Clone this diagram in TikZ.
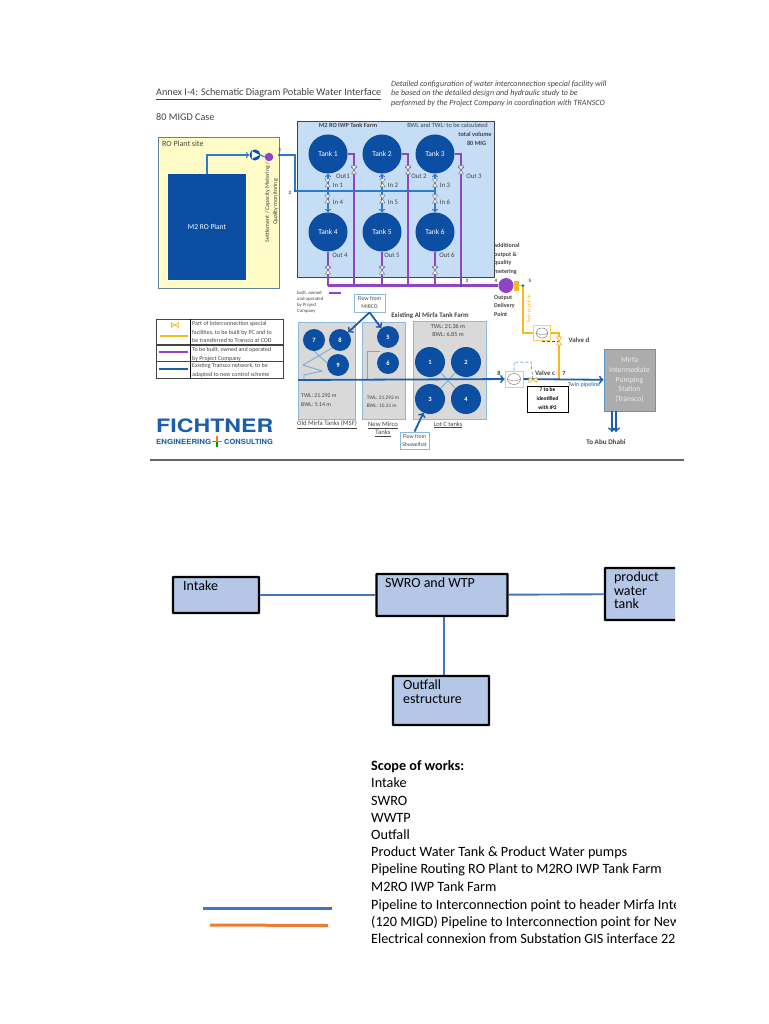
\documentclass[tikz,border=0pt]{standalone}
\usepackage{fontspec}
\setmainfont{Carlito}
\newfontfamily\logofont{TeX Gyre Heros}
\definecolor{azulT}{HTML}{0B4EA2}
\definecolor{azulP}{HTML}{1B5FAA}
\definecolor{azulC}{HTML}{2A7CD0}
\definecolor{morado}{HTML}{8E44C4}
\definecolor{amarillo}{HTML}{F5B81F}
\definecolor{cielo}{HTML}{C5DDF5}
\definecolor{marco}{HTML}{8DB9DC}
\definecolor{gris}{HTML}{D9D9D9}
\definecolor{cajaF}{HTML}{B4C7E7}
\definecolor{lineaB}{HTML}{4472C4}
\definecolor{lineaN}{HTML}{ED7D31}
\definecolor{tinta}{HTML}{444444}
\tikzset{
  chico/.style={font=\fontsize{6.8}{8}\selectfont, text=tinta, inner sep=0pt, align=center},
  mini/.style={font=\fontsize{6.3}{7}\selectfont\bfseries, text=tinta, inner sep=0pt, align=left},
  num/.style={font=\fontsize{5}{6}\selectfont\bfseries, text=tinta, inner sep=0pt},
  leyenda/.style={font=\fontsize{6}{8.4}\selectfont, text=tinta, inner sep=0pt, align=left, anchor=north west},
  tanque/.style={circle, fill=azulT, text=white, inner sep=0pt, minimum size=39pt, font=\fontsize{7.5}{9}\selectfont},
  tanqueC/.style={circle, fill=azulT, text=white, inner sep=0pt, font=\fontsize{6.5}{8}\selectfont\bfseries},
  grupo/.style={draw=marco, fill=gris, line width=1pt},
  tubB/.style={color=azulC, line width=1.2pt},
  tubM/.style={color=morado, line width=1.3pt},
  tubMg/.style={color=morado, line width=2.2pt},
  tubA/.style={color=amarillo, line width=1.5pt},
  tubG/.style={color=azulP, line width=1.8pt},
  fino/.style={color=marco!80!azulP, line width=0.8pt},
  medidor/.style={draw=amarillo!70, fill=white, line width=0.7pt, minimum width=17pt, minimum height=15pt, inner sep=0pt},
  caja/.style={draw=black, fill=cajaF, line width=2.2pt, rounded corners=0.5pt, inner sep=0pt},
  textoCaja/.style={font=\fontsize{14}{13.5}\selectfont, text=black, inner sep=0pt, align=left, anchor=north west},
  alcance/.style={font=\fontsize{14.2}{15}\selectfont, text=black, inner sep=0pt, anchor=base west},
  valvula/.pic={\draw[draw=tinta!70, fill=white, line width=0.5pt] (-2.5,-4) -- (2.5,-4) -- (-2.5,4) -- (2.5,4) -- cycle;},
  valvulaA/.pic={\draw[draw=amarillo, fill=white, line width=0.7pt] (-2.5,-4) -- (2.5,-4) -- (-2.5,4) -- (2.5,4) -- cycle;}
}
\begin{document}
\begin{tikzpicture}[x=1pt, y=-1pt]
  \useasboundingbox (0,0) rectangle (768,1024);

  % Titulos
  \node[font=\fontsize{10.2}{11}\selectfont, text=tinta, inner sep=0pt, anchor=west] (titulo) at (156,94) {\underline{Annex I-4: Schematic Diagram Potable Water Interface}};
  \node[font=\fontsize{10.2}{11}\selectfont, text=tinta, inner sep=0pt, anchor=west] (caso) at (156,117) {80 MIGD Case};
  \node[font=\fontsize{8.05}{9.2}\selectfont\itshape, text=tinta, inner sep=0pt, anchor=north west, align=left] (nota) at (391,81) {Detailed configuration of water interconnection special facility will\\be based on the detailed design and hydraulic study to be\\performed by the Project Company in coordination with TRANSCO};

  % Sitio de la planta
  \draw[fill=yellow!22, draw=marco!70!black, line width=0.8pt] (158,137) rectangle (279,288);
  \node[chico, font=\fontsize{8}{9}\selectfont, anchor=west] (sitio) at (162,143.5) {RO Plant site};
  \node[fill=azulT, text=white, font=\fontsize{7.5}{9}\selectfont, minimum width=78pt, minimum height=106pt, inner sep=0pt] (planta) at (207,227) {M2 RO Plant};
  \node[circle, fill=azulT, minimum size=11pt, inner sep=0pt] (bomba) at (255,155) {};
  \draw[fill=white, draw=white] (252,151.5) -- (259,155) -- (252,158.5) -- cycle;
  \node[circle, fill=morado, minimum size=8.5pt, inner sep=0pt] (calidad) at (269,157) {};
  \node[chico, font=\fontsize{6}{8}\selectfont, rotate=90] (settle) at (271.5,202) {Settlement / Capacity Metering /\\Quality monitoring};
  \node[num] (n1) at (280,150) {1};
  \node[num] (n2) at (290,193) {2};

  % Patio de tanques
  \draw[fill=cielo, draw=tinta, line width=0.8pt] (297,121) rectangle (494,277);
  \node[mini] (patio) at (348,125) {M2 RO IWP Tank Farm};
  \node[chico, font=\fontsize{6.4}{7}\selectfont] (calc) at (447.5,125) {BWL and TWL: to be calculated};
  \node[mini] (volumen) at (475,134) {total volume};
  \node[mini] (migd) at (476.5,143) {80 MIG};

  \node[tanque] (tank1) at (328,154) {Tank 1};
  \node[tanque] (tank2) at (382,154) {Tank 2};
  \node[tanque] (tank3) at (435,154) {Tank 3};
  \node[tanque] (tank4) at (328,232) {Tank 4};
  \node[tanque] (tank5) at (382,232) {Tank 5};
  \node[tanque] (tank6) at (435,232) {Tank 6};

  % Puntos de la red
  \coordinate (p1) at (279,155);
  \coordinate (p1b) at (295,155);
  \coordinate (p2) at (295,191);
  \coordinate (c3) at (435,191);
  \coordinate (v1) at (354,170);
  \coordinate (v2) at (408,170);
  \coordinate (v3) at (461,170);
  \coordinate (j1) at (354,285.5);
  \coordinate (j2) at (408,285.5);
  \coordinate (j3) at (461,285.5);
  \coordinate (j4) at (328,285.5);
  \coordinate (j5) at (382,285.5);
  \coordinate (j6) at (435,285.5);
  \coordinate (in1) at (327.5,183);
  \coordinate (in4) at (327.5,199);
  \coordinate (in2) at (382.5,183);
  \coordinate (in5) at (382.5,199);
  \coordinate (in3) at (435,183);
  \coordinate (in6) at (435,199);
  \coordinate (o4) at (328,270);
  \coordinate (o5) at (382,270);
  \coordinate (o6) at (435,270);

  % Tuberias azules
  \draw[tubB, ->] (planta.north) |- (bomba.west);
  \draw[tubB] (bomba.east) -- (calidad.west);
  \draw[tubB] (p1) -- (p1b) -- (p2) -- (c3);
  \draw[tubB, <->] (tank1) -- (tank4);
  \draw[tubB, <->] (tank2) -- (tank5);
  \draw[tubB, <->] (tank3) -- (tank6);
  \fill[azulP] (p1) circle (1.2);
  \fill[azulP] (p2) circle (1.2);

  % Tuberias moradas
  \node[circle, fill=morado, minimum size=15pt, inner sep=0pt] (entrega) at (506,285.5) {};
  \draw[tubM, ->] (tank1.east) -| (v1);
  \draw[tubM, ->] (tank2.east) -| (v2);
  \draw[tubM, ->] (tank3.east) -| (v3);
  \draw[tubM] (v1) -- (j1);
  \draw[tubM] (v2) -- (j2);
  \draw[tubM] (v3) -- (j3);
  \draw[tubM, ->] (tank4) -- (o4);
  \draw[tubM, ->] (tank5) -- (o5);
  \draw[tubM, ->] (tank6) -- (o6);
  \draw[tubM] (o4) -- (j4);
  \draw[tubM] (o5) -- (j5);
  \draw[tubM] (o6) -- (j6);
  \draw[tubMg] (j4) -- (entrega);
  \fill[morado] (j1) circle (1.4);
  \fill[morado] (j2) circle (1.4);
  \fill[azulP] (j3) circle (1.4);

  % Valvulas
  \pic at (in1) {valvula};
  \pic at (in2) {valvula};
  \pic at (in3) {valvula};
  \pic at (in4) {valvula};
  \pic at (in5) {valvula};
  \pic at (in6) {valvula};
  \pic at (v1) {valvula};
  \pic at (v2) {valvula};
  \pic at (v3) {valvula};
  \pic at (o4) {valvula};
  \pic at (o5) {valvula};
  \pic at (o6) {valvula};

  \node[chico] (lo1) at (343,176) {Out1};
  \node[chico] (lo2) at (419,176) {Out 2};
  \node[chico] (lo3) at (474,176) {Out 3};
  \node[chico] (lo4) at (340,255) {Out 4};
  \node[chico] (lo5) at (392,255) {Out 5};
  \node[chico] (lo6) at (447,255) {Out 6};
  \node[chico] (li1) at (338,185) {In 1};
  \node[chico] (li2) at (393,185) {In 2};
  \node[chico] (li3) at (445,185) {In 3};
  \node[chico] (li4) at (338,202) {In 4};
  \node[chico] (li5) at (393,202) {In 5};
  \node[chico] (li6) at (445,202) {In 6};

  % Punto de entrega
  \node[num] (n3) at (467,281) {3};
  \node[num] (n4) at (496,281) {4};
  \node[num] (n5) at (530,281) {5};
  \node[mini, anchor=north west, font=\fontsize{6}{8.7}\selectfont\bfseries] (extra) at (494,243) {additional\\output \&\\quality\\metering};
  \node[mini, anchor=north west, font=\fontsize{6}{8.6}\selectfont\bfseries] (salida) at (494,295) {Output\\Delivery\\Point};
  \node[chico, anchor=north west, font=\fontsize{4.8}{6}\selectfont, align=left] (propio) at (297,291) {built, owned\\and operated\\by Project\\Company};
  \draw[tubM] (329,293) -- (341,293);

  % Ramal amarillo
  \coordinate (p5) at (523,285.5);
  \coordinate (p5b) at (523,333);
  \coordinate (p7d) at (559,333);
  \coordinate (p7) at (559,380);
  \coordinate (vd) at (559,341);
  \coordinate (vc) at (533,380);
  \node[medidor] (medD) at (542,333) {};
  \draw[tubA] (entrega) -- (p5) -- (p5b) -- (medD);
  \draw[tubA] (medD) -- (p7d) -- (p7);
  \draw[fill=amarillo, draw=none] (514,281) rectangle (519,291);
  \fill[azulP] (p5) circle (1.3);
  \draw[azulP, densely dashed, line width=0.5pt] (medD.south) |- (vd);
  \draw[gray, line width=0.5pt] (medD.center) ellipse (6 and 5);
  \draw[gray, line width=0.4pt] (536,333) to[bend right=30] (548,333);
  \pic at (vd) {valvulaA};
  \node[chico, text=amarillo, font=\fontsize{5.4}{6}\selectfont, rotate=90] (gemela) at (529,309) {Twin pipeline};
  \node[chico, font=\fontsize{6.9}{8}\selectfont\bfseries] (lvd) at (579,340) {Valve d};

  % Grupos de tanques existentes
  \draw[grupo] (298,322) rectangle (355,419);
  \draw[grupo] (362,322) rectangle (405,419);
  \draw[grupo] (413,321) rectangle (486,419);
  \node[mini, font=\fontsize{6.9}{8}\selectfont\bfseries] (existente) at (430,315.5) {Existing Al Mirfa Tank Farm};

  \draw[fino] (332,348) -- (303,365) -- (322,371) -- (304,375) -- (304,380);
  \draw[fino] (313,350) -- (327,363);
  \draw[fino] (367,380) -- (367,351) -- (380,351);
  \draw[fino] (441,373) -- (455,388);
  \draw[fino] (455,373) -- (441,388);

  \node[tanqueC, minimum size=22pt] (t7) at (314,340) {7};
  \node[tanqueC, minimum size=22pt] (t8) at (340,340) {8};
  \node[tanqueC, minimum size=22pt] (t9) at (338,365) {9};
  \node[tanqueC, minimum size=22pt] (t5) at (388,337) {5};
  \node[tanqueC, minimum size=22pt] (t6) at (388,363) {6};
  \node[tanqueC, minimum size=30pt] (t1) at (430,362) {1};
  \node[tanqueC, minimum size=30pt] (t2) at (466,362) {2};
  \node[tanqueC, minimum size=30pt] (t3) at (430,399) {3};
  \node[tanqueC, minimum size=30pt] (t4) at (466,399) {4};

  \node[chico, font=\fontsize{5.8}{8.3}\selectfont, align=left, anchor=west] (nivO) at (301,400) {TWL: 21.292 m\\BWL: 5.14 m};
  \node[chico, font=\fontsize{5.3}{8}\selectfont, align=left] (nivN) at (383,402) {TWL: 21.292 m\\BWL: 10.31 m};
  \node[chico, font=\fontsize{6.1}{8.7}\selectfont, align=center] (nivC) at (448,330.5) {TWL: 21.36 m\\BWL: 6.85 m};
  \node[chico, font=\fontsize{6.7}{8}\selectfont] (lOld) at (327,425) {\underline{Old Mirfa Tanks (MSF)}};
  \node[chico, font=\fontsize{6.7}{8}\selectfont] (lNew) at (383,429) {\underline{New Mirco}\\\underline{Tanks}};
  \node[chico, font=\fontsize{6.5}{8}\selectfont] (lLot) at (448,425) {\underline{Lot C tanks}};

  % Flujos de entrada
  \node[draw=marco, fill=white, line width=0.8pt, chico, font=\fontsize{5.7}{8}\selectfont, minimum width=31pt, minimum height=18pt] (mirco) at (369.5,303) {Flow from\\MIRCO};
  \node[draw=marco, fill=white, line width=0.8pt, chico, font=\fontsize{5.7}{8}\selectfont, minimum width=29pt, minimum height=17pt] (shuw) at (414.5,440.5) {Flow from\\Shuweihat};
  \draw[tubG, ->] (mirco.south) -- (t8);
  \draw[tubG, ->] (mirco.south) -- (t5);
  \draw[tubG, ->] (shuw.north) -- (t3);

  % Linea principal
  \coordinate (ini) at (298,380);
  \node[medidor, minimum width=18pt, minimum height=16pt] (medC) at (514,379) {};
  \node[fill=gray!65, draw=marco!60!azulP, line width=1pt, minimum width=51pt, minimum height=62pt, inner sep=0pt, align=center, text=white!92!black, font=\fontsize{7.7}{9.8}\selectfont] (estacion) at (629.5,380) {Mirfa\\Intermediate\\Pumping\\Station\\(Transco)};
  \draw[tubG, ->] (ini) -- (medC);
  \draw[tubG, ->] (medC) -- (estacion);
  \draw[gray, line width=0.5pt] (medC.center) ellipse (6.5 and 5.5);
  \draw[gray, line width=0.4pt] (507.5,379) to[bend right=30] (520.5,379);
  \draw[azulP, densely dashed, line width=0.5pt] (medC.north) -- (514,362) -- (531,362) -- (vc);
  \pic[rotate=90] at (vc) {valvulaA};
  \draw[fill=amarillo, draw=none] (559,375) circle (1.6);
  \node[mini] (n8) at (499,373) {8};
  \node[mini, font=\fontsize{6.9}{8}\selectfont\bfseries] (lvc) at (545,373) {Valve c};
  \node[mini] (n7) at (564,373) {7};
  \node[chico, text=azulP, font=\fontsize{6}{7}\selectfont] (gemelaB) at (584,385) {Twin pipeline};
  \node[draw=black, fill=white, line width=0.6pt, chico, text=black, font=\fontsize{5.4}{9}\selectfont\bfseries, minimum width=41pt, minimum height=26pt] (ip2) at (547.5,399) {7 to be\\identified\\with IP2};
  \coordinate (abu1) at (612,432);
  \coordinate (abu2) at (616,432);
  \draw[tubG, ->] (612,411) -- (abu1);
  \draw[tubG, ->] (616,411) -- (abu2);
  \node[chico, font=\fontsize{7.1}{8}\selectfont\bfseries] (abu) at (606,442) {To Abu Dhabi};

  % Tabla de leyenda
  \draw[tinta, line width=0.7pt] (156,319) rectangle (283,378);
  \draw[tinta, line width=1.4pt] (156,345) -- (283,345);
  \draw[tinta, line width=0.7pt] (156,361) -- (283,361);
  \draw[black, line width=0.9pt] (190,319) -- (190,378);
  \draw[amarillo, line width=1.6pt] (160,336) -- (188,336);
  \draw[morado, line width=1.8pt] (159,352) -- (188,352);
  \draw[azulP, line width=1.6pt] (159,369) -- (188,369);
  \pic[rotate=90, scale=0.9] at (175,325) {valvulaA};
  \node[leyenda] (ley1) at (192,321.5) {Part of Interconnection special\\facilities, to be built by PC and to\\be transferred to Transco at COD};
  \node[leyenda] (ley2) at (192,347.5) {To be built, owned and operated\\by Project Company};
  \node[leyenda] (ley3) at (192,363.5) {Existing Transco network, to be\\adapted to new control scheme};

  % Logotipo
  \node[inner sep=0pt, anchor=west, text=azulP, font=\logofont\bfseries\fontsize{18.5}{20}\selectfont] (logo) at (156,426) {\scalebox{1.25}[1]{FICHTNER}};
  \node[inner sep=0pt, anchor=west, text=azulP, font=\logofont\bfseries\fontsize{7}{8}\selectfont] (ing) at (156,442) {\scalebox{1.12}[1]{ENGINEERING}};
  \node[inner sep=0pt, anchor=west, text=azulP, font=\logofont\bfseries\fontsize{7}{8}\selectfont] (cons) at (224,442) {\scalebox{1.07}[1]{CONSULTING}};
  \draw[line width=1.2pt, color=green!50!blue!70] (212,441.5) -- (222,441.5);
  \draw[line width=1.2pt, color=orange] (217,436) -- (217,441.5);
  \draw[line width=1.2pt, color=green!60!black] (217,441.5) -- (217,447);

  \draw[gray!80!black, line width=1.8pt] (150,460) -- (684,460);

  % Diagrama inferior
  \begin{scope}
    \clip (0,462) rectangle (675,1024);
    \node[caja, minimum width=86pt, minimum height=36pt] (intake) at (216,595) {};
    \node[caja, minimum width=131pt, minimum height=42pt] (swro) at (442,595) {};
    \node[caja, minimum width=100pt, minimum height=52pt] (tanqueP) at (655,594) {};
    \node[caja, minimum width=96pt, minimum height=49pt] (outfall) at (441,700.5) {};
    \draw[lineaB, line width=1.9pt] (intake) -- (swro);
    \draw[lineaB, line width=1.9pt] (swro) -- (tanqueP);
    \draw[lineaB, line width=2pt] (swro.south -| outfall.north) ++(3,0) coordinate (sal) -- (sal |- outfall.north);
    \node[textoCaja] (tIntake) at ([xshift=11pt,yshift=-4.5pt]intake.north west) {Intake};
    \node[textoCaja] (tSwro) at ([xshift=9.5pt,yshift=-4.5pt]swro.north west) {SWRO and WTP};
    \node[textoCaja] (tTanque) at ([xshift=10pt,yshift=-5pt]tanqueP.north west) {product\\water\\tank};
    \node[textoCaja] (tOutfall) at ([xshift=11pt,yshift=-5pt]outfall.north west) {Outfall\\estructure};

    % Alcance
    \node[alcance, font=\fontsize{14.2}{15}\selectfont\bfseries] (a0) at (371,770) {Scope of works:};
    \node[alcance] (a1) at (371,787) {Intake};
    \node[alcance] (a2) at (371,805) {SWRO};
    \node[alcance] (a3) at (371,822) {WWTP};
    \node[alcance] (a4) at (371,839) {Outfall};
    \node[alcance] (a5) at (371,856) {Product Water Tank \& Product Water pumps};
    \node[alcance] (a6) at (371,873.5) {Pipeline Routing RO Plant to M2RO IWP Tank Farm};
    \node[alcance] (a7) at (371,891) {M2RO IWP Tank Farm};
    \node[alcance] (a8) at (371,909) {Pipeline to Interconnection point to header Mirfa Inte};
    \node[alcance] (a9) at (371,926) {(120 MIGD) Pipeline to Interconnection point for New};
    \node[alcance] (a10) at (371,943) {Electrical connexion from Substation GIS interface 22};
  \end{scope}
  \draw[lineaB, line width=3pt] (203,908) -- (332,908);
  \draw[lineaN, line width=3pt] (210,925) -- (328,925.5);
\end{tikzpicture}
\end{document}
